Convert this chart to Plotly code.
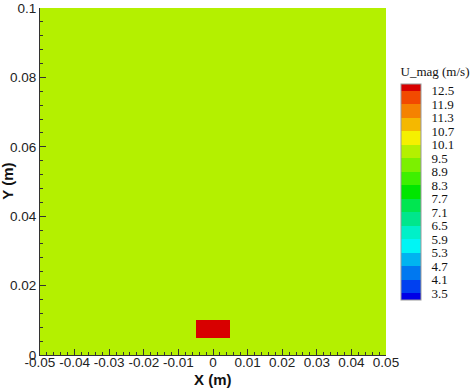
import plotly.graph_objects as go

# ---- data ----
x_edges = [-0.05, -0.005, 0.005, 0.05]
y_edges = [0.0, 0.005, 0.01, 0.1]
u_mag = [
    [9.8, 9.8, 9.8],
    [9.8, 12.6, 9.8],
    [9.8, 9.8, 9.8],
]
levels = [3.5, 4.1, 4.7, 5.3, 5.9, 6.5, 7.1, 7.7, 8.3, 8.9, 9.5, 10.1, 10.7, 11.3, 11.9, 12.5]
level_labels = ["3.5", "4.1", "4.7", "5.3", "5.9", "6.5", "7.1", "7.7", "8.3", "8.9",
                "9.5", "10.1", "10.7", "11.3", "11.9", "12.5"]
band_colors = ["#0000e6", "#0040f0", "#0078f0", "#00b4f0", "#00f5f5", "#00f0c8",
               "#00e68c", "#00e650", "#00e600", "#3ef000", "#7cf000", "#b4f000",
               "#f5f000", "#f5b800", "#f58200", "#f24a00", "#d80000"]
z_min, z_max = 3.2, 12.8

x_ticks = [-0.05, -0.04, -0.03, -0.02, -0.01, 0, 0.01, 0.02, 0.03, 0.04, 0.05]
x_tick_labels = ["-0.05", "-0.04", "-0.03", "-0.02", "-0.01", "0", "0.01", "0.02", "0.03", "0.04", "0.05"]
y_ticks = [0, 0.02, 0.04, 0.06, 0.08, 0.1]
y_tick_labels = ["0", "0.02", "0.04", "0.06", "0.08", "0.1"]

# ---- discrete colorscale ----
bounds = [z_min] + levels + [z_max]
colorscale = []
for i, c in enumerate(band_colors):
    a = (bounds[i] - z_min) / (z_max - z_min)
    b = (bounds[i + 1] - z_min) / (z_max - z_min)
    colorscale.append([a, c])
    colorscale.append([b, c])

fig = go.Figure()
fig.add_trace(go.Heatmap(
    x=x_edges, y=y_edges, z=u_mag,
    zmin=z_min, zmax=z_max, colorscale=colorscale,
    hoverinfo="skip",
    colorbar=dict(
        title=dict(text="U_mag (m/s)", side="top",
                   font=dict(family="Liberation Serif", size=13, color="#111")),
        tickvals=levels, ticktext=level_labels,
        tickfont=dict(family="Liberation Serif", size=13, color="#111"),
        ticks="outside", ticklen=8, tickcolor="rgba(0,0,0,0)",
        x=1.0434, xanchor="left", xpad=0,
        y=0.4986, yanchor="middle", ypad=0,
        len=236, lenmode="pixels",
        thickness=20, thicknessmode="pixels",
        outlinewidth=1, outlinecolor="#999",
    ),
))

axis_font = dict(family="Liberation Sans", size=13.5, color="#222")
fig.update_xaxes(
    range=[-0.05, 0.05], tickvals=x_ticks, ticktext=x_tick_labels,
    ticks="inside", ticklen=6, tickcolor="#333", tickwidth=1,
    minor=dict(dtick=0.002, ticks="inside", ticklen=3, tickcolor="#333"),
    showline=True, linecolor="#333", linewidth=1,
    showgrid=False, zeroline=False, tickfont=axis_font,
    ticklabelstandoff=-5,
)
fig.update_yaxes(
    range=[0, 0.1], tickvals=y_ticks, ticktext=y_tick_labels,
    ticks="inside", ticklen=6, tickcolor="#333", tickwidth=1,
    minor=dict(dtick=0.004, ticks="inside", ticklen=3, tickcolor="#333"),
    showline=True, linecolor="#333", linewidth=1,
    showgrid=False, zeroline=False, tickfont=axis_font,
)

fig.add_annotation(text="<b>X (m)</b>", xref="paper", yref="paper", x=0.5, y=-0.072,
                   xanchor="center", yanchor="middle", showarrow=False,
                   font=dict(family="Liberation Sans", size=15, color="#111"))
fig.add_annotation(text="<b>Y (m)</b>", xref="paper", yref="paper", x=-0.095, y=0.5,
                   xanchor="center", yanchor="middle", showarrow=False, textangle=-90,
                   font=dict(family="Liberation Sans", size=15, color="#111"))

fig.update_layout(
    width=474, height=389, autosize=False,
    margin=dict(l=40, r=88, t=8, b=34, autoexpand=False),
    plot_bgcolor="white", paper_bgcolor="white",
)

fig.write_html("out.html", config={"displayModeBar": False},
               post_script="document.body.style.margin='0px';")
